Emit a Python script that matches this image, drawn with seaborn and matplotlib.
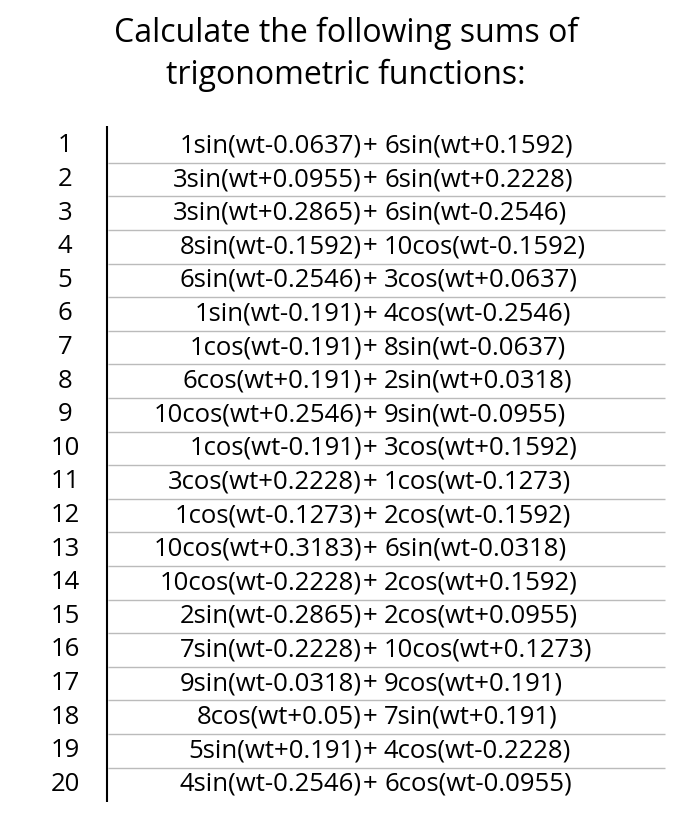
import matplotlib
matplotlib.use("Agg")
import matplotlib.pyplot as plt
import seaborn as sns

sns.set_style("white")
plt.rcParams['font.family'] = ['Open Sans', 'DejaVu Sans']
plt.rcParams['text.color'] = 'black'

title_lines = ["Calculate the following sums of", "trigonometric functions:"]
row_numbers = list(range(1, 21))
left_terms = ["1sin(wt-0.0637)", "3sin(wt+0.0955)", "3sin(wt+0.2865)", "8sin(wt-0.1592)",
              "6sin(wt-0.2546)", "1sin(wt-0.191)", "1cos(wt-0.191)", "6cos(wt+0.191)",
              "10cos(wt+0.2546)", "1cos(wt-0.191)", "3cos(wt+0.2228)", "1cos(wt-0.1273)",
              "10cos(wt+0.3183)", "10cos(wt-0.2228)", "2sin(wt-0.2865)", "7sin(wt-0.2228)",
              "9sin(wt-0.0318)", "8cos(wt+0.05)", "5sin(wt+0.191)", "4sin(wt-0.2546)"]
right_terms = ["6sin(wt+0.1592)", "6sin(wt+0.2228)", "6sin(wt-0.2546)", "10cos(wt-0.1592)",
               "3cos(wt+0.0637)", "4cos(wt-0.2546)", "8sin(wt-0.0637)", "2sin(wt+0.0318)",
               "9sin(wt-0.0955)", "3cos(wt+0.1592)", "1cos(wt-0.1273)", "2cos(wt-0.1592)",
               "6sin(wt-0.0318)", "2cos(wt+0.1592)", "2cos(wt+0.0955)", "10cos(wt+0.1273)",
               "9cos(wt+0.191)", "7sin(wt+0.191)", "4cos(wt-0.2228)", "6cos(wt-0.0955)"]

fig = plt.figure(figsize=(6.93, 8.25), dpi=100)
ax = fig.add_axes([0, 0, 1, 1])
ax.set_xlim(0, 693)
ax.set_ylim(825, 0)
ax.axis("off")

ax.text(346, 33, title_lines[0], ha="center", va="center", fontsize=23)
ax.text(346, 75, title_lines[1], ha="center", va="center", fontsize=23)

y0, dy = 146, 33.6
fs = 18.5
for i, n in enumerate(row_numbers):
    y = y0 + i * dy
    ax.text(65, y, str(n), ha="center", va="center", fontsize=fs)
    ax.text(362, y, left_terms[i], ha="right", va="center", fontsize=fs)
    ax.text(370, y, "+", ha="center", va="center", fontsize=fs)
    ax.text(384, y, right_terms[i], ha="left", va="center", fontsize=fs)
    if i < len(row_numbers) - 1:
        ax.hlines(y + dy / 2, 108, 665, color="#bbbbbb", lw=1)

ax.vlines(107, 126, 802, color="black", lw=1.5)
fig.savefig("out.png", dpi=100)
